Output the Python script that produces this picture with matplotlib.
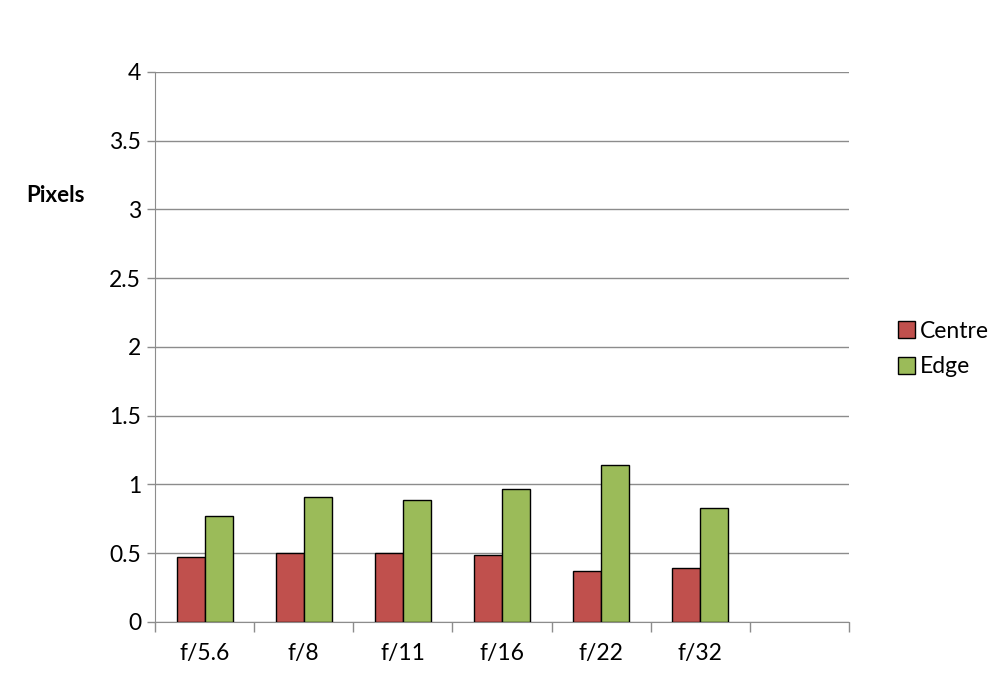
import matplotlib
matplotlib.use("Agg")
import matplotlib.pyplot as plt
import numpy as np
from matplotlib.patches import Patch

categories = ["f/5.6", "f/8", "f/11", "f/16", "f/22", "f/32", ""]
centre = [0.47, 0.50, 0.50, 0.49, 0.37, 0.39]
edge = [0.77, 0.91, 0.89, 0.97, 1.14, 0.83]

plt.rcParams['font.family'] = ['Lato', 'DejaVu Sans']

fig = plt.figure(figsize=(10, 6.98), dpi=100)
ax = fig.add_axes([0.155, 0.109, 0.694, 0.788])

n = len(categories)
x = np.arange(len(centre))
w = 0.283
red = "#C0504D"
green = "#9BBB59"
ax.bar(x - w / 2, centre, width=w, color=red, edgecolor="black", linewidth=1, zorder=3)
ax.bar(x + w / 2, edge, width=w, color=green, edgecolor="black", linewidth=1, zorder=3)

ax.set_xlim(-0.5, n - 0.5)
ax.set_ylim(0, 4)
ax.set_yticks(np.arange(0, 4.01, 0.5))
ax.set_yticklabels(["0", "0.5", "1", "1.5", "2", "2.5", "3", "3.5", "4"])
ax.yaxis.grid(True, color="#8c8c8c", linewidth=1)
ax.set_axisbelow(True)

ax.set_xticks(np.arange(n + 1) - 0.5)
ax.set_xticklabels([])
ax.set_xticks(np.arange(n), minor=True)
ax.set_xticklabels(categories, minor=True)
ax.tick_params(axis="x", which="minor", length=0, labelsize=16.5, pad=15)
ax.tick_params(axis="x", which="major", length=7, color="#8c8c8c", width=1)
ax.tick_params(axis="y", length=6, color="#8c8c8c", width=1, labelsize=16.5, pad=4)

for s in ["top", "right"]:
    ax.spines[s].set_visible(False)
ax.spines["left"].set_color("#8c8c8c")
ax.spines["bottom"].set_color("#8c8c8c")

fig.text(0.055, 1 - 195 / 698, "Pixels", fontsize=16, fontweight="bold", ha="center", va="center")

handles = [Patch(facecolor=red, edgecolor="black", label="Centre"),
           Patch(facecolor=green, edgecolor="black", label="Edge")]
fig.legend(handles=handles, loc="center left", bbox_to_anchor=(0.898, 1 - 349 / 698),
           frameon=False, fontsize=16.5, handlelength=0.75, handleheight=0.75,
           handletextpad=0.2, labelspacing=0.65, borderpad=0, borderaxespad=0)

fig.savefig("out.png", dpi=100)
